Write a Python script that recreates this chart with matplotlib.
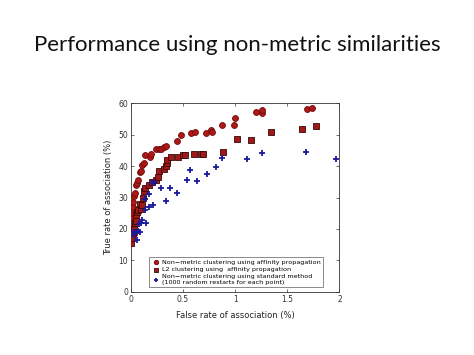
import matplotlib
matplotlib.use("Agg")
import matplotlib.pyplot as plt

# Non-metric clustering using affinity propagation (circles)
ap_x = [0.01, 0.01, 0.02, 0.02, 0.02, 0.03, 0.02, 0.03, 0.04, 0.05, 0.06, 0.07, 0.09, 0.10,
        0.11, 0.13, 0.14, 0.18, 0.19, 0.24, 0.27, 0.29, 0.32, 0.34, 0.44, 0.48, 0.58, 0.62,
        0.72, 0.77, 0.78, 0.87, 0.99, 1.00, 1.20, 1.26, 1.26, 1.69, 1.74]
ap_y = [21.0, 23.5, 25.0, 27.0, 28.5, 30.5, 19.5, 18.5, 31.5, 34.0, 34.5, 35.5, 38.0, 38.5,
        40.5, 41.0, 43.5, 43.0, 44.0, 45.5, 45.5, 45.5, 46.0, 46.3, 48.0, 50.0, 50.5, 51.0,
        50.5, 51.5, 51.0, 53.0, 53.0, 55.4, 57.3, 57.0, 57.9, 58.2, 58.4]

# L2 clustering using affinity propagation (squares)
l2_x = [0.00, 0.01, 0.02, 0.03, 0.04, 0.05, 0.05, 0.06, 0.07, 0.09, 0.10, 0.11, 0.12, 0.13,
        0.14, 0.17, 0.20, 0.24, 0.26, 0.27, 0.32, 0.34, 0.35, 0.35, 0.39, 0.45, 0.50, 0.52,
        0.61, 0.67, 0.69, 0.88, 1.02, 1.15, 1.34, 1.64, 1.78]
l2_y = [15.5, 17.0, 19.0, 20.0, 22.0, 22.5, 24.5, 25.5, 26.0, 28.0, 26.5, 27.5, 30.0, 32.0,
        33.0, 34.0, 35.0, 35.5, 36.5, 38.5, 39.0, 40.0, 41.0, 42.0, 43.0, 43.0, 43.5, 43.7,
        44.0, 44.0, 44.0, 44.5, 48.5, 48.3, 51.0, 51.7, 52.7]

# Non-metric clustering using standard method (crosses)
st_x = [0.02, 0.03, 0.05, 0.06, 0.07, 0.08, 0.09, 0.10, 0.11, 0.15, 0.14, 0.17, 0.21, 0.14,
        0.17, 0.20, 0.22, 0.29, 0.34, 0.38, 0.44, 0.54, 0.57, 0.63, 0.73, 0.82, 0.87, 1.11,
        1.26, 1.68, 1.97]
st_y = [18.0, 19.0, 19.0, 16.5, 19.5, 21.5, 19.0, 22.0, 23.0, 22.0, 26.0, 27.0, 27.5, 29.5,
        31.0, 34.5, 35.0, 33.0, 28.9, 32.9, 31.5, 35.6, 38.8, 35.4, 37.5, 39.6, 42.7, 42.3,
        44.2, 44.4, 42.2]

labels = ["Non\u2212metric clustering using affinity propagation",
          "L2 clustering using  affinity propagation",
          "Non\u2212metric clustering using standard method\n(1000 random restarts for each point)"]

fig = plt.figure(figsize=(4.74, 3.55), dpi=100)
fig.text(0.5, 0.873, "Performance using non-metric similarities", ha="center", va="center",
         fontsize=16, family="Lato", color="#111111")

ax = fig.add_axes([0.276, 0.178, 0.440, 0.531])
ax.scatter(ap_x, ap_y, marker="o", s=18, facecolor="#b01818", edgecolor="#6a0a0a", linewidths=0.6,
           label=labels[0], zorder=3)
ax.scatter(l2_x, l2_y, marker="s", s=13, facecolor="#a01818", edgecolor="#3a0808", linewidths=0.6,
           label=labels[1], zorder=3)
ax.scatter(st_x, st_y, marker="+", s=22, color="#1a1a9a", linewidths=1.3,
           label=labels[2], zorder=3)

ax.set_xlim(0, 2)
ax.set_ylim(0, 60)
ax.set_xticks([0, 0.5, 1, 1.5, 2])
ax.set_xticklabels(["0", "0.5", "1", "1.5", "2"])
ax.set_yticks([0, 10, 20, 30, 40, 50, 60])
ax.tick_params(direction="in", top=True, right=True, labelsize=5.5, length=2.5, width=0.5,
               colors="#333333", pad=2)
for sp in ax.spines.values():
    sp.set_linewidth(0.6)
    sp.set_color("#333333")
ax.set_xlabel("False rate of association (%)", fontsize=6, labelpad=5, color="#222222")
ax.set_ylabel("True rate of association (%)", fontsize=6, labelpad=4, color="#222222")

leg = ax.legend(loc="lower left", bbox_to_anchor=(0.089, 0.023), fontsize=4.6, frameon=True,
                fancybox=False, edgecolor="#333333", handletextpad=0.3, borderpad=0.4,
                labelspacing=0.3, handlelength=1.2, borderaxespad=0, markerscale=0.75)
leg.get_frame().set_linewidth(0.5)

fig.savefig("out.png", dpi=100)
